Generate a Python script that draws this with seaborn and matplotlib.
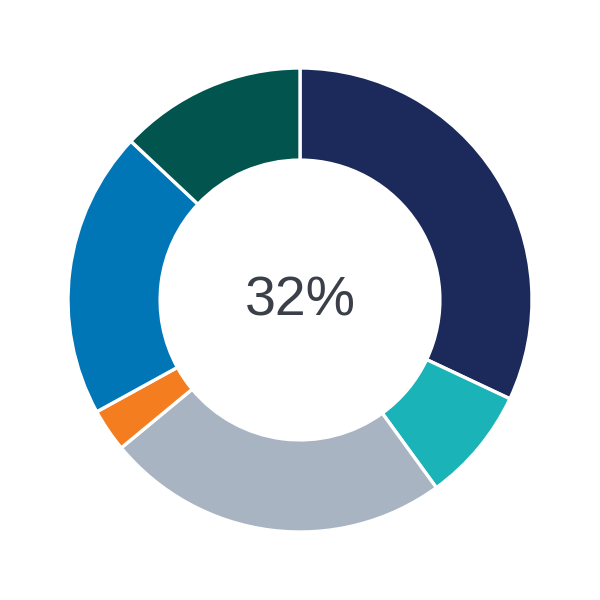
import matplotlib
matplotlib.use("Agg")
import matplotlib.pyplot as plt
import seaborn as sns

# slice shares, clockwise from 12 o'clock
labels = ["Navy", "Teal", "Gray", "Orange", "Blue", "Green"]
shares = [32, 8, 24, 3, 20, 13]
colors = ["#1b2a5a", "#1ab3b8", "#a9b4c2", "#f47d20", "#0076b6", "#02554f"]
center_label = "32%"

sns.set_theme(style="white")
plt.rcParams['font.family'] = ['Liberation Sans', 'DejaVu Sans']

fig = plt.figure(figsize=(6, 6), dpi=100)
ax = fig.add_axes([0, 0, 1, 1])

ax.pie(shares, colors=colors, startangle=90, counterclock=False,
       radius=1.0,
       wedgeprops=dict(width=0.397, edgecolor="white", linewidth=2.4))

ax.text(0, -0.005, center_label, ha="center", va="center",
        fontsize=40, color="#3a3f4a")

lim = 300 / 232
ax.set_xlim(-lim, lim)
ax.set_ylim(-lim, lim)
ax.set_aspect("equal")
ax.axis("off")

fig.savefig("out.png", dpi=100, facecolor="white")
